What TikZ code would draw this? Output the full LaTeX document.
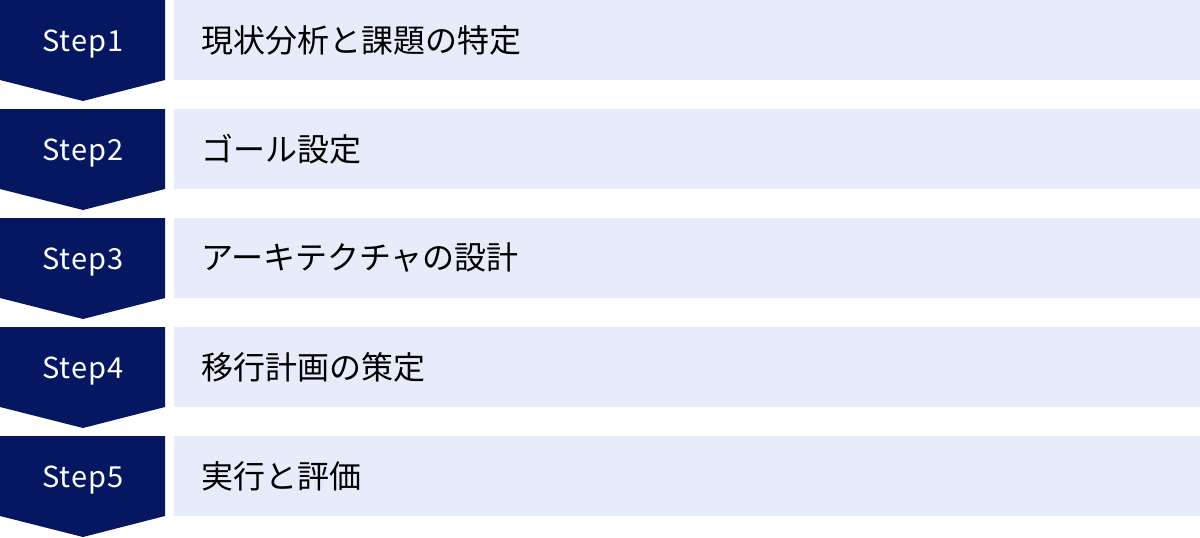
\documentclass[tikz,border=0pt]{standalone}
\usepackage{fontspec}
\setmainfont{Noto Sans CJK JP}
\newfontfamily\stepfont[LetterSpace=4]{Noto Sans CJK JP}
\definecolor{stepnavy}{RGB}{4,23,96}
\definecolor{stepbg}{RGB}{230,236,249}

\begin{document}
\begin{tikzpicture}[x=1pt, y=-1pt,
    stepmark/.style={fill=stepnavy},
    stepbar/.style={fill=stepbg},
    steplabel/.style={text=white, inner sep=0pt, font=\stepfont\fontsize{29}{35}\selectfont},
    steptext/.style={anchor=west, inner sep=0pt, text=black, font=\fontsize{32}{38}\selectfont}]
  \useasboundingbox (0,0) rectangle (1200,538);

  % step 1
  \fill[stepmark] (0,0) -- (165,0) -- (165,80) -- (83,101) -- (0,80) -- cycle;
  \fill[stepbar] (174,0) rectangle (1200,80);
  \node[steplabel] (s1) at (83,44) {Step1};
  \node[steptext] (t1) at (201,40) {現状分析と課題の特定};

  % step 2
  \fill[stepmark] (0,109) -- (165,109) -- (165,189) -- (83,210) -- (0,189) -- cycle;
  \fill[stepbar] (174,109) rectangle (1200,189);
  \node[steplabel] (s2) at (83,153) {Step2};
  \node[steptext] (t2) at (201,149) {ゴール設定};

  % step 3
  \fill[stepmark] (0,218) -- (165,218) -- (165,298) -- (83,319) -- (0,298) -- cycle;
  \fill[stepbar] (174,218) rectangle (1200,298);
  \node[steplabel] (s3) at (83,262) {Step3};
  \node[steptext] (t3) at (201,258) {アーキテクチャの設計};

  % step 4
  \fill[stepmark] (0,327) -- (165,327) -- (165,407) -- (83,428) -- (0,407) -- cycle;
  \fill[stepbar] (174,327) rectangle (1200,407);
  \node[steplabel] (s4) at (83,371) {Step4};
  \node[steptext] (t4) at (201,367) {移行計画の策定};

  % step 5
  \fill[stepmark] (0,436) -- (165,436) -- (165,516) -- (83,537) -- (0,516) -- cycle;
  \fill[stepbar] (174,436) rectangle (1200,516);
  \node[steplabel] (s5) at (83,480) {Step5};
  \node[steptext] (t5) at (201,476) {実行と評価};
\end{tikzpicture}
\end{document}
